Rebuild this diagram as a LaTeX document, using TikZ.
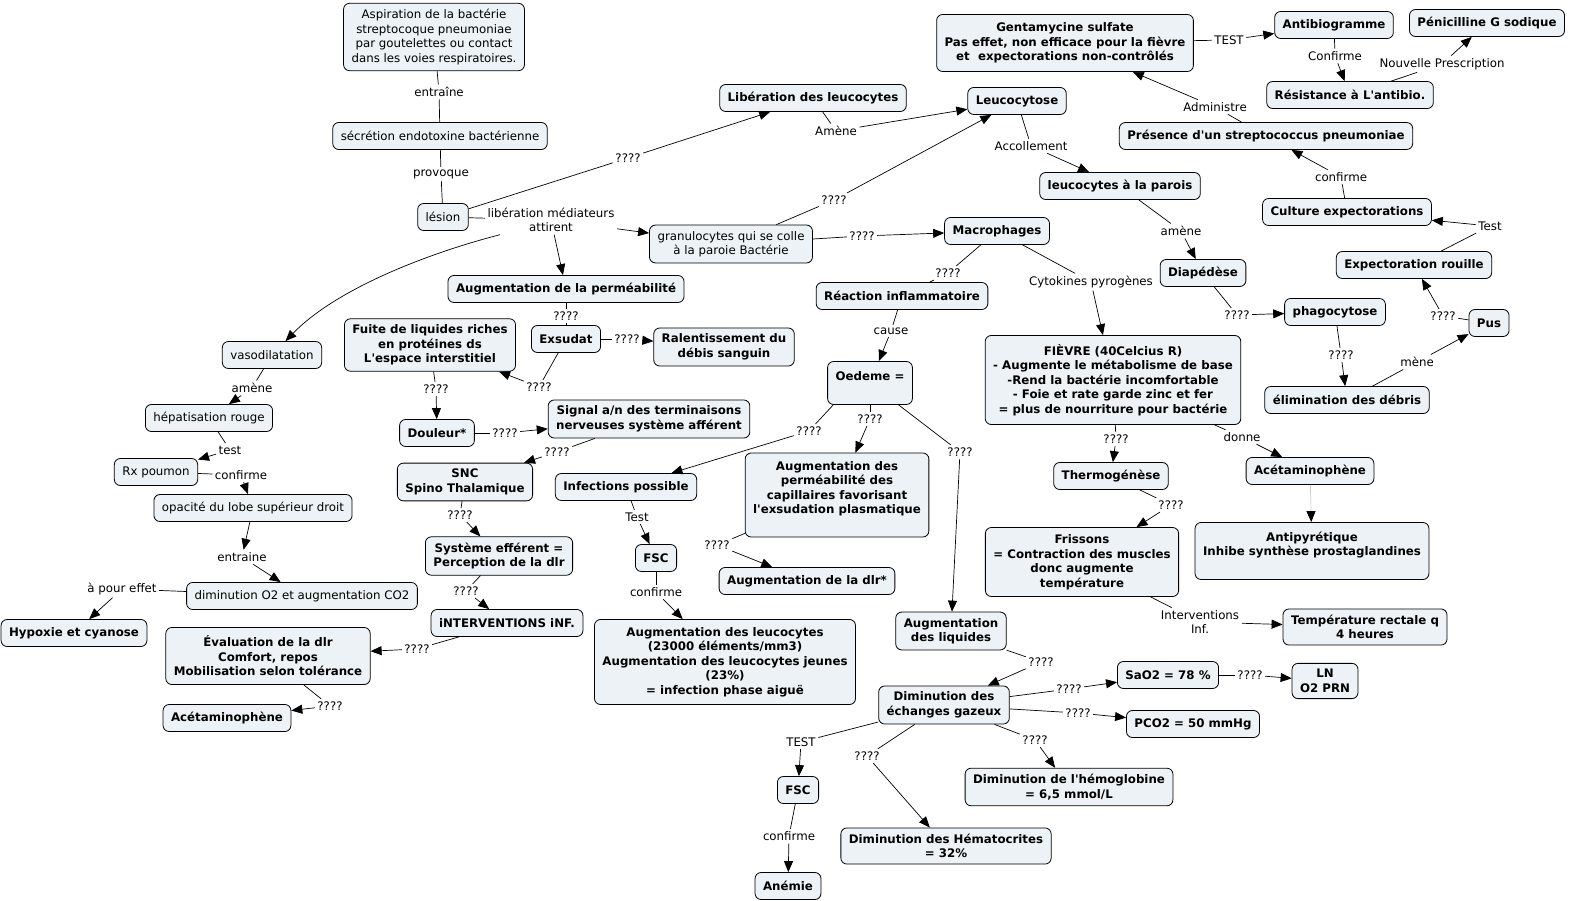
\documentclass[tikz,border=0pt]{standalone}
\usepackage{fontspec}
\setmainfont{DejaVu Sans}
\usetikzlibrary{arrows.meta}
\definecolor{cfill}{RGB}{236,242,245}
\newcommand{\ap}{\textquotesingle}
\begin{document}
\begin{tikzpicture}[x=1pt,y=-1pt,
  font=\fontsize{11.8}{14.5}\selectfont,
  c/.style={draw=black, line width=0.8pt, fill=cfill, rounded corners=6pt, align=center, inner xsep=8pt, inner ysep=6pt, minimum height=27pt},
  cb/.style={c, font=\fontsize{11.8}{14.5}\selectfont\bfseries},
  lab/.style={inner sep=2.5pt, align=center},
  ln/.style={line width=0.7pt},
  arr/.style={ln, -{Triangle[length=11pt,width=9pt]}},
]
\useasboundingbox (0,0) rectangle (1570,901);
% concepts
\node[c] (asp) at (434,37) {Aspiration de la bactérie\\streptocoque pneumoniae\\par goutelettes ou contact\\dans les voies respiratoires.};
\node[c] (secr) at (440,136) {sécrétion endotoxine bactérienne};
\node[c] (lesion) at (443,217) {lésion};
\node[cb] (libleu) at (813,98) {Libération des leucocytes};
\node[cb] (leucocytose) at (1017,101) {Leucocytose};
\node[cb, minimum height=57pt] (genta) at (1065,43) {Gentamycine sulfate\\Pas effet, non efficace pour la fièvre\\et\ \ expectorations non-contrôlés};
\node[cb] (antibio) at (1334,25) {Antibiogramme};
\node[cb] (penic) at (1487,23) {Pénicilline G sodique};
\node[cb] (resist) at (1350,95) {Résistance à L\ap antibio.};
\node[cb] (presence) at (1266,136) {Présence d\ap un streptococcus pneumoniae};
\node[cb] (culture) at (1347,212) {Culture expectorations};
\node[cb] (expect) at (1414,265) {Expectoration rouille};
\node[cb] (pus) at (1489,323) {Pus};
\node[cb] (phago) at (1335,312) {phagocytose};
\node[cb] (elim) at (1347,400) {élimination des débris};
\node[cb] (leuparoi) at (1120,186) {leucocytes à la parois};
\node[cb] (diaped) at (1203,273) {Diapédèse};
\node[c] (granulo) at (731,244) {granulocytes qui se colle\\à la paroie Bactérie};
\node[cb] (macro) at (997,231) {Macrophages};
\node[cb] (reaction) at (902,296) {Réaction inflammatoire};
\node[cb, minimum height=89pt] (fievre) at (1113,380) {FIÈVRE (40Celcius R)\\- Augmente le métabolisme de base\\-Rend la bactérie incomfortable\\- Foie et rate garde zinc et fer\\= plus de nourriture pour bactérie};
\node[cb, minimum height=43pt] (oedeme) at (870,383) {Oedeme =\\\mbox{}};
\node[cb] (augperm) at (566,289) {Augmentation de la perméabilité};
\node[cb] (exsudat) at (566,339) {Exsudat};
\node[cb] (ralent) at (724,347) {Ralentissement du\\débis sanguin};
\node[cb] (fuite) at (430,345) {Fuite de liquides riches\\en protéines ds\\L\ap espace interstitiel};
\node[cb] (douleur) at (437,433) {Douleur*};
\node[cb] (signal) at (649,419) {Signal a/n des terminaisons\\nerveuses système afférent};
\node[cb] (snc) at (465,482) {SNC\\Spino Thalamique};
\node[cb] (infect) at (626,487) {Infections possible};
\node[cb, minimum height=84pt] (augcap) at (837,495) {Augmentation des\\perméabilité des\\capillaires favorisant\\l\ap exsudation plasmatique\\\mbox{}};
\node[cb] (augdlr) at (807,581) {Augmentation de la dlr*};
\node[cb] (sysEff) at (499,556) {Système efférent =\\Perception de la dlr};
\node[cb] (fsc1) at (656,558) {FSC};
\node[cb] (interv) at (507,623) {iNTERVENTIONS iNF.};
\node[cb, minimum height=85pt] (augleu) at (725,662) {Augmentation des leucocytes\\(23000 éléments/mm3)\\Augmentation des leucocytes jeunes\\(23\%)\\= infection phase aiguë};
\node[cb, minimum height=57pt] (eval) at (268,656) {Évaluation de la dlr\\Comfort, repos\\Mobilisation selon tolérance};
\node[cb] (acet1) at (227,718) {Acétaminophène};
\node[cb] (hypox) at (74,633) {Hypoxie et cyanose};
\node[c] (dimO2) at (302,596) {diminution O2 et augmentation CO2};
\node[c] (opac) at (253,508) {opacité du lobe supérieur droit};
\node[c] (rx) at (156,472) {Rx poumon};
\node[c] (hepat) at (209,418) {hépatisation rouge};
\node[c] (vaso) at (272,355) {vasodilatation};
\node[cb] (thermo) at (1111,476) {Thermogénèse};
\node[cb] (acet2) at (1310,471) {Acétaminophène};
\node[cb, minimum height=57pt] (antipy) at (1312,551) {Antipyrétique\\Inhibe synthèse prostaglandines\\\mbox{}};
\node[cb, minimum height=69pt] (frissons) at (1082,562) {Frissons\\= Contraction des muscles\\donc augmente\\température};
\node[cb] (temprect) at (1365,627) {Température rectale q\\4 heures};
\node[cb] (augliq) at (951,631) {Augmentation\\des liquides};
\node[cb] (dimech) at (944,705) {Diminution des\\échanges gazeux};
\node[cb] (sao2) at (1168,675) {SaO2 = 78 \%};
\node[cb] (lno) at (1325,681) {LN\\O2 PRN};
\node[cb] (pco2) at (1193,724) {PCO2 = 50 mmHg};
\node[cb] (hemo) at (1069,787) {Diminution de l\ap hémoglobine\\= 6,5 mmol/L};
\node[cb] (hemato) at (946,846) {Diminution des Hématocrites\\= 32\%};
\node[cb] (fsc2) at (798,790) {FSC};
\node[cb] (anemie) at (788,886) {Anémie};
% linking phrases
\node[lab] (L1) at (439,92) {entraîne};
\node[lab] (L2) at (441,174) {provoque};
\node[lab] (q1) at (628,158) {????};
\node[lab] (libmed) at (551,220) {libération médiateurs\\attirent};
\node[lab] (amene1) at (836,131) {Amène};
\node[lab] (q2) at (834,200) {????};
\node[lab] (accol) at (1031,146) {Accollement};
\node[lab] (q3) at (862,236) {????};
\node[lab] (q4) at (948,273) {????};
\node[lab] (cyto) at (1091,282) {Cytokines pyrogènes};
\node[lab] (amene2) at (1181,231) {amène};
\node[lab] (q5) at (1237,315) {????};
\node[lab] (q6) at (1341,355) {????};
\node[lab] (mene) at (1417,362) {mène};
\node[lab] (q7) at (1443,316) {????};
\node[lab] (test1) at (1490,226) {Test};
\node[lab] (confirme1) at (1341,177) {confirme};
\node[lab] (admin) at (1215,107) {Administre};
\node[lab] (TEST1) at (1229,40) {TEST};
\node[lab] (Confirme) at (1335,56) {Confirme};
\node[lab] (nouvelle) at (1442,64) {Nouvelle Prescription};
\node[lab] (q8) at (566,316) {????};
\node[lab] (q9) at (627,339) {????};
\node[lab] (q10) at (539,387) {????};
\node[lab] (q11) at (436,389) {????};
\node[lab] (q12) at (505,433) {????};
\node[lab] (q13) at (557,452) {????};
\node[lab] (q14) at (460,515) {????};
\node[lab] (q15) at (466,591) {????};
\node[lab] (q16) at (417,649) {????};
\node[lab] (q17) at (330,706) {????};
\node[lab] (amene3) at (252,388) {amène};
\node[lab] (test2) at (230,450) {test};
\node[lab] (confirme2) at (241,475) {confirme};
\node[lab] (entraine2) at (242,557) {entraine};
\node[lab] (apour) at (122,589) {à pour effet};
\node[lab] (cause) at (891,331) {cause};
\node[lab] (q18) at (809,431) {????};
\node[lab] (q19) at (870,419) {????};
\node[lab] (q20) at (960,452) {????};
\node[lab] (test3) at (637,517) {Test};
\node[lab] (confirme3) at (656,592) {confirme};
\node[lab] (q21) at (717,545) {????};
\node[lab] (q22) at (1116,439) {????};
\node[lab] (donne) at (1242,437) {donne};
\node[lab] (q23) at (1171,505) {????};
\node[lab] (interv2) at (1200,622) {Interventions\\Inf.};
\node[lab] (q24) at (1041,662) {????};
\node[lab] (q25) at (1069,689) {????};
\node[lab] (q26) at (1250,675) {????};
\node[lab] (q27) at (1078,713) {????};
\node[lab] (q28) at (1035,740) {????};
\node[lab] (q29) at (867,756) {????};
\node[lab] (TEST2) at (801,742) {TEST};
\node[lab] (confirme4) at (789,836) {confirme};
% connectors
\draw[ln] (asp) -- (L1); \draw[ln] (L1) -- (secr);
\draw[ln] (secr) -- (L2); \draw[ln] (L2) -- (lesion);
\draw[ln] (lesion) -- (q1); \draw[arr] (q1) -- (libleu);
\draw[ln] (lesion) -- (libmed);
\draw[arr] (libmed) -- (granulo);
\draw[arr] (libmed) -- (augperm);
\draw[arr] ([xshift=15pt]libmed.south west) .. controls (440,250) and (340,285) .. (vaso);
\draw[ln] (libleu) -- (amene1); \draw[arr] (amene1) -- (leucocytose);
\draw[ln] (granulo) -- (q2); \draw[arr] (q2) -- (leucocytose);
\draw[ln] (granulo) -- (q3); \draw[arr] (q3) -- (macro);
\draw[ln] (leucocytose) -- (accol); \draw[arr] (accol) -- (leuparoi);
\draw[ln] (macro) -- (q4); \draw[ln] (q4) -- (reaction);
\draw[ln] (macro) -- (cyto); \draw[arr] (cyto) -- (fievre);
\draw[ln] (leuparoi) -- (amene2); \draw[arr] (amene2) -- (diaped);
\draw[ln] (diaped) -- (q5); \draw[arr] (q5) -- (phago);
\draw[ln] (phago) -- (q6); \draw[arr] (q6) -- (elim);
\draw[ln] (elim) -- (mene); \draw[arr] (mene) -- (pus);
\draw[ln] (pus) -- (q7); \draw[arr] (q7) -- (expect);
\draw[ln] (expect) -- (test1); \draw[arr] (test1) -- (culture);
\draw[ln] (culture) -- (confirme1); \draw[arr] (confirme1) -- (presence);
\draw[ln] (presence) -- (admin); \draw[arr] (admin) -- (genta);
\draw[ln] (genta) -- (TEST1); \draw[arr] (TEST1) -- (antibio);
\draw[ln] (antibio) -- (Confirme); \draw[arr] (Confirme) -- (resist);
\draw[ln] (resist) -- (nouvelle); \draw[arr] (nouvelle) -- (penic);
\draw[ln] (augperm) -- (q8); \draw[ln] (q8) -- (exsudat);
\draw[ln] (exsudat) -- (q9); \draw[arr] (q9) -- (ralent);
\draw[ln] (exsudat) -- (q10); \draw[arr] (q10) -- (fuite);
\draw[ln] (fuite) -- (q11); \draw[arr] (q11) -- (douleur);
\draw[ln] (douleur) -- (q12); \draw[arr] (q12) -- (signal);
\draw[ln] (signal) -- (q13); \draw[arr] (q13) -- (snc);
\draw[ln] (snc) -- (q14); \draw[arr] (q14) -- (sysEff);
\draw[ln] (sysEff) -- (q15); \draw[arr] (q15) -- (interv);
\draw[ln] (interv) -- (q16); \draw[arr] (q16) -- (eval);
\draw[ln] (eval) -- (q17); \draw[arr] (q17) -- (acet1);
\draw[ln] (vaso) -- (amene3); \draw[arr] (amene3) -- (hepat);
\draw[ln] (hepat) -- (test2); \draw[arr] (test2) -- (rx);
\draw[ln] (rx) -- (confirme2); \draw[arr] (confirme2) -- (opac);
\draw[arr] (opac) -- (entraine2); \draw[arr] (entraine2) -- (dimO2);
\draw[ln] (dimO2) -- (apour); \draw[arr] (apour) -- (hypox);
\draw[ln] (reaction) -- (cause); \draw[arr] (cause) -- (oedeme);
\draw[ln] ([xshift=6pt]oedeme.south west) -- (q18); \draw[arr] (q18) -- (infect);
\draw[ln] (oedeme) -- (q19); \draw[arr] (q19) -- (augcap);
\draw[ln] (oedeme) -- (q20); \draw[arr] (q20) -- (augliq);
\draw[ln] (infect) -- (test3); \draw[arr] (test3) -- (fsc1);
\draw[ln] (fsc1) -- (confirme3); \draw[arr] (confirme3) -- (augleu);
\draw[ln] (augcap) -- (q21); \draw[arr] (q21) -- (augdlr);
\draw[ln] (fievre) -- (q22); \draw[arr] (q22) -- (thermo);
\draw[ln] (fievre) -- (donne); \draw[arr] (donne) -- (acet2);
\draw[ln, draw=gray!40, -{Triangle[length=11pt,width=9pt,color=black]}] (acet2) -- (antipy);
\draw[ln] (thermo) -- (q23); \draw[arr] (q23) -- (frissons);
\draw[ln] (frissons) -- (interv2); \draw[arr] (interv2) -- (temprect);
\draw[ln] (augliq) -- (q24); \draw[arr] (q24) -- (dimech);
\draw[ln] (dimech) -- (q25); \draw[arr] (q25) -- (sao2);
\draw[ln] (sao2) -- (q26); \draw[arr] (q26) -- (lno);
\draw[ln] (dimech) -- (q27); \draw[arr] (q27) -- (pco2);
\draw[ln] (dimech) -- (q28); \draw[arr] (q28) -- (hemo);
\draw[ln] (dimech) -- (q29); \draw[arr] (q29) -- (hemato);
\draw[ln] (dimech) -- (TEST2); \draw[arr] (TEST2) -- (fsc2);
\draw[ln] (fsc2) -- (confirme4); \draw[arr] (confirme4) -- (anemie);
\end{tikzpicture}
\end{document}
